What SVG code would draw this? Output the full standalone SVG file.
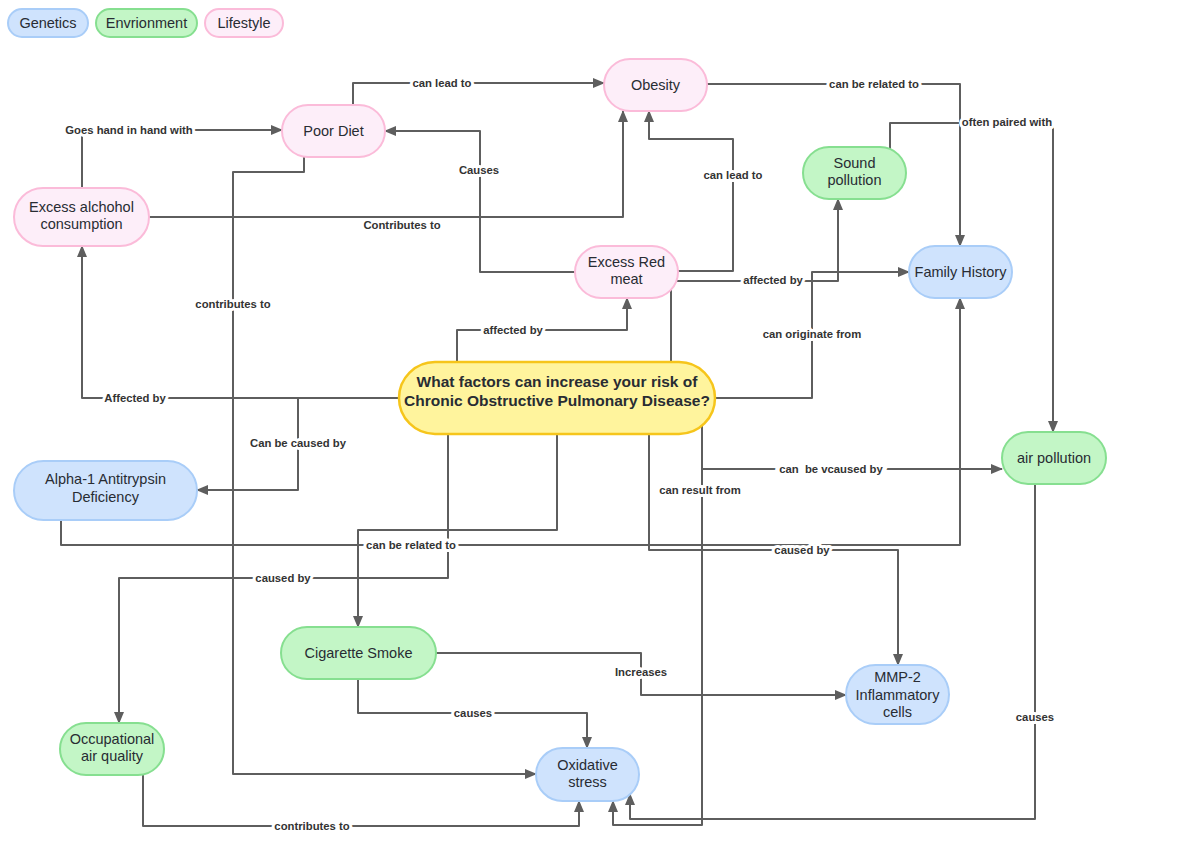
<svg xmlns="http://www.w3.org/2000/svg" width="1200" height="848" viewBox="0 0 1200 848">
<style>
.pink{fill:#fdeef9;stroke:#fbbbd9;stroke-width:2}
.green{fill:#c3f6c6;stroke:#86df90;stroke-width:2}
.blue{fill:#cfe3fd;stroke:#a9cdf8;stroke-width:2}
.yellow{fill:#fff49d;stroke:#f6c51b;stroke-width:2.5}
.t{font-family:"Liberation Sans",Arial,sans-serif;font-size:14.5px;fill:#282c33;text-anchor:middle}
.tb{font-family:"Liberation Sans",Arial,sans-serif;font-size:15.5px;font-weight:bold;fill:#282c33;text-anchor:middle}
.c path{fill:none;stroke:#5e5e5e;stroke-width:2;stroke-linejoin:round;marker-end:url(#arr)}
.lbl{font-family:"Liberation Sans",Arial,sans-serif;font-size:11.3px;font-weight:bold;fill:#333;text-anchor:middle;stroke:#fff;stroke-width:6;stroke-linejoin:round;paint-order:stroke;white-space:pre}
.wide{stroke-width:9}
</style>
<defs>
<marker id="arr" viewBox="0 0 12 10" refX="11" refY="5" markerWidth="12" markerHeight="10" markerUnits="userSpaceOnUse" orient="auto">
<path d="M0,0 L12,5 L0,10 z" fill="#5e5e5e"/>
</marker>
</defs>
<rect width="1200" height="848" fill="#fff"/>

<g id="legend">
<rect class="blue" x="8" y="9" width="80" height="28" rx="14"/>
<text class="t" x="48" y="28">Genetics</text>
<rect class="green" x="96" y="9" width="101" height="28" rx="14"/>
<text class="t" x="146.5" y="28">Envrionment</text>
<rect class="pink" x="205" y="9" width="78" height="28" rx="14"/>
<text class="t" x="244" y="28">Lifestyle</text>
</g>

<g id="connectors" class="c">
<path d="M353,105 V83 H604"/>
<path d="M82,188 V130 H282"/>
<path d="M575,272 H480 V131 H385"/>
<path d="M149,217 H623 V111"/>
<path d="M678,271 H733 V139 H649 V111"/>
<path d="M707,84 H960 V246"/>
<path d="M890,149 V123 H1053 V432"/>
<path d="M671,362 V281 H838 V199"/>
<path d="M715,398 H812 V272 H909"/>
<path d="M457,363 V330 H627 V298"/>
<path d="M399,398 H82 V246"/>
<path d="M399,398 H298 V490 H197"/>
<path d="M304,157 V172 H233 V774 H536"/>
<path d="M61,519 V545 H960 V298"/>
<path d="M557,434 V530 H358 V627"/>
<path d="M448,434 V578 H119 V723"/>
<path d="M649,434 V550 H898 V665"/>
<path d="M702,426 V469 H1002"/>
<path d="M702,426 V825 H613 V801"/>
<path d="M1035,484 V819 H630 V794"/>
<path d="M436,653 H641 V695 H846"/>
<path d="M358,679 V713 H587 V748"/>
<path d="M143,775 V826 H579 V801"/>
<text class="lbl" x="442" y="87">can lead to</text>
<text class="lbl" x="129" y="134">Goes hand in hand with</text>
<text class="lbl" x="479" y="174">Causes</text>
<text class="lbl" x="402" y="229">Contributes to</text>
<text class="lbl" x="733" y="179">can lead to</text>
<text class="lbl" x="874" y="88">can be related to</text>
<text class="lbl" x="1007" y="126">often paired with</text>
<text class="lbl" x="773" y="284">affected by</text>
<text class="lbl" x="812" y="338">can originate from</text>
<text class="lbl" x="513" y="334">affected by</text>
<text class="lbl" x="135" y="402">Affected by</text>
<text class="lbl" x="298" y="447">Can be caused by</text>
<text class="lbl" x="233" y="308">contributes to</text>
<text class="lbl" x="411" y="549">can be related to</text>
<text class="lbl" x="283" y="582">caused by</text>
<text class="lbl" x="802" y="554">caused by</text>
<text class="lbl wide" x="831" y="473" xml:space="preserve">can  be vcaused by</text>
<text class="lbl" x="700" y="494">can result from</text>
<text class="lbl" x="1035" y="721">causes</text>
<text class="lbl" x="641" y="676">Increases</text>
<text class="lbl" x="473" y="717">causes</text>
<text class="lbl" x="312" y="830">contributes to</text>
</g>

<g id="poor-diet">
<rect class="pink" x="282" y="105" width="103" height="52" rx="26"/>
<text class="t" x="333.5" y="136">Poor Diet</text>
</g>
<g id="obesity">
<rect class="pink" x="604" y="59" width="103" height="52" rx="26"/>
<text class="t" x="655.5" y="90">Obesity</text>
</g>
<g id="excess-alcohol">
<rect class="pink" x="14" y="188" width="135" height="58" rx="29"/>
<text class="t" x="81.5" y="212">Excess alchohol</text>
<text class="t" x="81.5" y="229">consumption</text>
</g>
<g id="sound-pollution">
<rect class="green" x="803" y="147" width="103" height="52" rx="26"/>
<text class="t" x="854.5" y="168">Sound</text>
<text class="t" x="854.5" y="185">pollution</text>
</g>
<g id="family-history">
<rect class="blue" x="909" y="246" width="103" height="52" rx="26"/>
<text class="t" x="960.5" y="277">Family History</text>
</g>
<g id="excess-red-meat">
<rect class="pink" x="575" y="246" width="103" height="52" rx="26"/>
<text class="t" x="626.5" y="267">Excess Red</text>
<text class="t" x="626.5" y="284">meat</text>
</g>
<g id="central">
<rect class="yellow" x="399" y="362" width="316" height="72" rx="36"/>
<text class="tb" x="557" y="387">What factors can increase your risk of</text>
<text class="tb" x="557" y="406">Chronic Obstructive Pulmonary Disease?</text>
</g>
<g id="alpha-1">
<rect class="blue" x="14" y="461" width="183" height="59" rx="29.5"/>
<text class="t" x="105.5" y="484">Alpha-1 Antitrypsin</text>
<text class="t" x="105.5" y="502">Deficiency</text>
</g>
<g id="air-pollution">
<rect class="green" x="1002" y="432" width="104" height="52" rx="26"/>
<text class="t" x="1054" y="463">air pollution</text>
</g>
<g id="cigarette-smoke">
<rect class="green" x="281" y="627" width="155" height="52" rx="26"/>
<text class="t" x="358.5" y="658">Cigarette Smoke</text>
</g>
<g id="occupational-air-quality">
<rect class="green" x="60" y="723" width="104" height="52" rx="26"/>
<text class="t" x="112" y="744">Occupational</text>
<text class="t" x="112" y="761">air quality</text>
</g>
<g id="oxidative-stress">
<rect class="blue" x="536" y="748" width="103" height="53" rx="26.5"/>
<text class="t" x="587.5" y="770">Oxidative</text>
<text class="t" x="587.5" y="787">stress</text>
</g>
<g id="mmp-2">
<rect class="blue" x="846" y="665" width="103" height="59" rx="29.5"/>
<text class="t" x="897.5" y="682">MMP-2</text>
<text class="t" x="897.5" y="700">Inflammatory</text>
<text class="t" x="897.5" y="717">cells</text>
</g>
</svg>
